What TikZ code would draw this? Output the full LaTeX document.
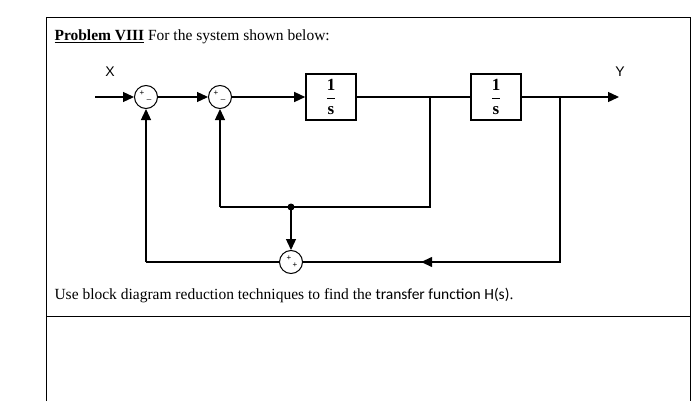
\documentclass[tikz,border=0pt]{standalone}
\usepackage{fontspec}
\setmainfont{Liberation Serif}
\newfontfamily\sansX{Liberation Sans}
\newfontfamily\calX{Carlito}
\usetikzlibrary{arrows.meta,decorations.markings}
\begin{document}
\begin{tikzpicture}[x=1pt,y=-1pt,
  sum/.style={circle,draw,line width=1pt,minimum size=23pt,inner sep=0pt},
  blk/.style={draw,line width=1.6pt,minimum width=50pt,minimum height=46pt,inner sep=0pt},
  ln/.style={line width=1.3pt},
  sg/.style={font=\sansX\fontsize{8}{8}\selectfont,inner sep=0pt},
  tip/.style={-{Triangle[length=11pt,width=10pt]}},
  mid/.style={decoration={markings,mark=at position #1 with {\arrow{Triangle[length=11pt,width=10pt]}}},postaction=decorate}]
\useasboundingbox (0,0) rectangle (700,401);
\draw[line width=0.6pt] (46,401) -- (46,17) -- (690,17) -- (690,401);
\draw[line width=0.6pt] (46,316) -- (690,316);
\node[anchor=west,font=\fontsize{15.5}{17}\selectfont] (t1) at (51,37) {\textbf{\underline{Problem VIII}} For the system shown below:};
\node[anchor=west,font=\fontsize{15.5}{17}\selectfont] (t2) at (51,295) {Use block diagram reduction techniques to find the {\calX transfer function H(s)}.};
\node[font=\sansX\fontsize{14}{16}\selectfont] (X) at (110,72) {X};
\node[font=\sansX\fontsize{14}{16}\selectfont] (Y) at (620,72) {Y};
\coordinate (in) at (95,97);
\node[sum] (s1) at (146,97) {};
\node[sg] at (142,93) {+};
\node[sg] at (149,99) {\_};
\node[sum] (s2) at (220,97) {};
\node[sg] at (216,93) {+};
\node[sg] at (223,99) {\_};
\node[blk] (b1) at (331,97) {\fontsize{17}{17}\selectfont$\displaystyle\frac{\mathbf 1}{\mathbf s}$};
\node[blk] (b2) at (496,97) {\fontsize{17}{17}\selectfont$\displaystyle\frac{\mathbf 1}{\mathbf s}$};
\coordinate (j1) at (430,97);
\coordinate (j2) at (560,97);
\coordinate (out) at (619,97);
\node[sum] (s3) at (291,262) {};
\node[sg] at (289,258) {+};
\node[sg] at (295,265) {+};
\coordinate (dot) at (291,207);
\fill (dot) circle (3.5pt);
\draw[ln,tip] (in) -- (s1);
\draw[ln,tip] (s1) -- (s2);
\draw[ln,tip] (s2) -- (b1);
\draw[ln] (b1) -- (j1) -- (b2);
\draw[ln,tip] (b2) -- (out);
\draw[ln] (j1) -- (430,207) -- (220,207);
\draw[ln,tip] (220,207) -- (s2);
\draw[ln,tip] (dot) -- (s3);
\draw[ln,mid=0.72] (j2) -- (560,262) -- (s3);
\draw[ln] (s3) -- (146,262);
\draw[ln,tip] (146,262) -- (s1);
\end{tikzpicture}
\end{document}
